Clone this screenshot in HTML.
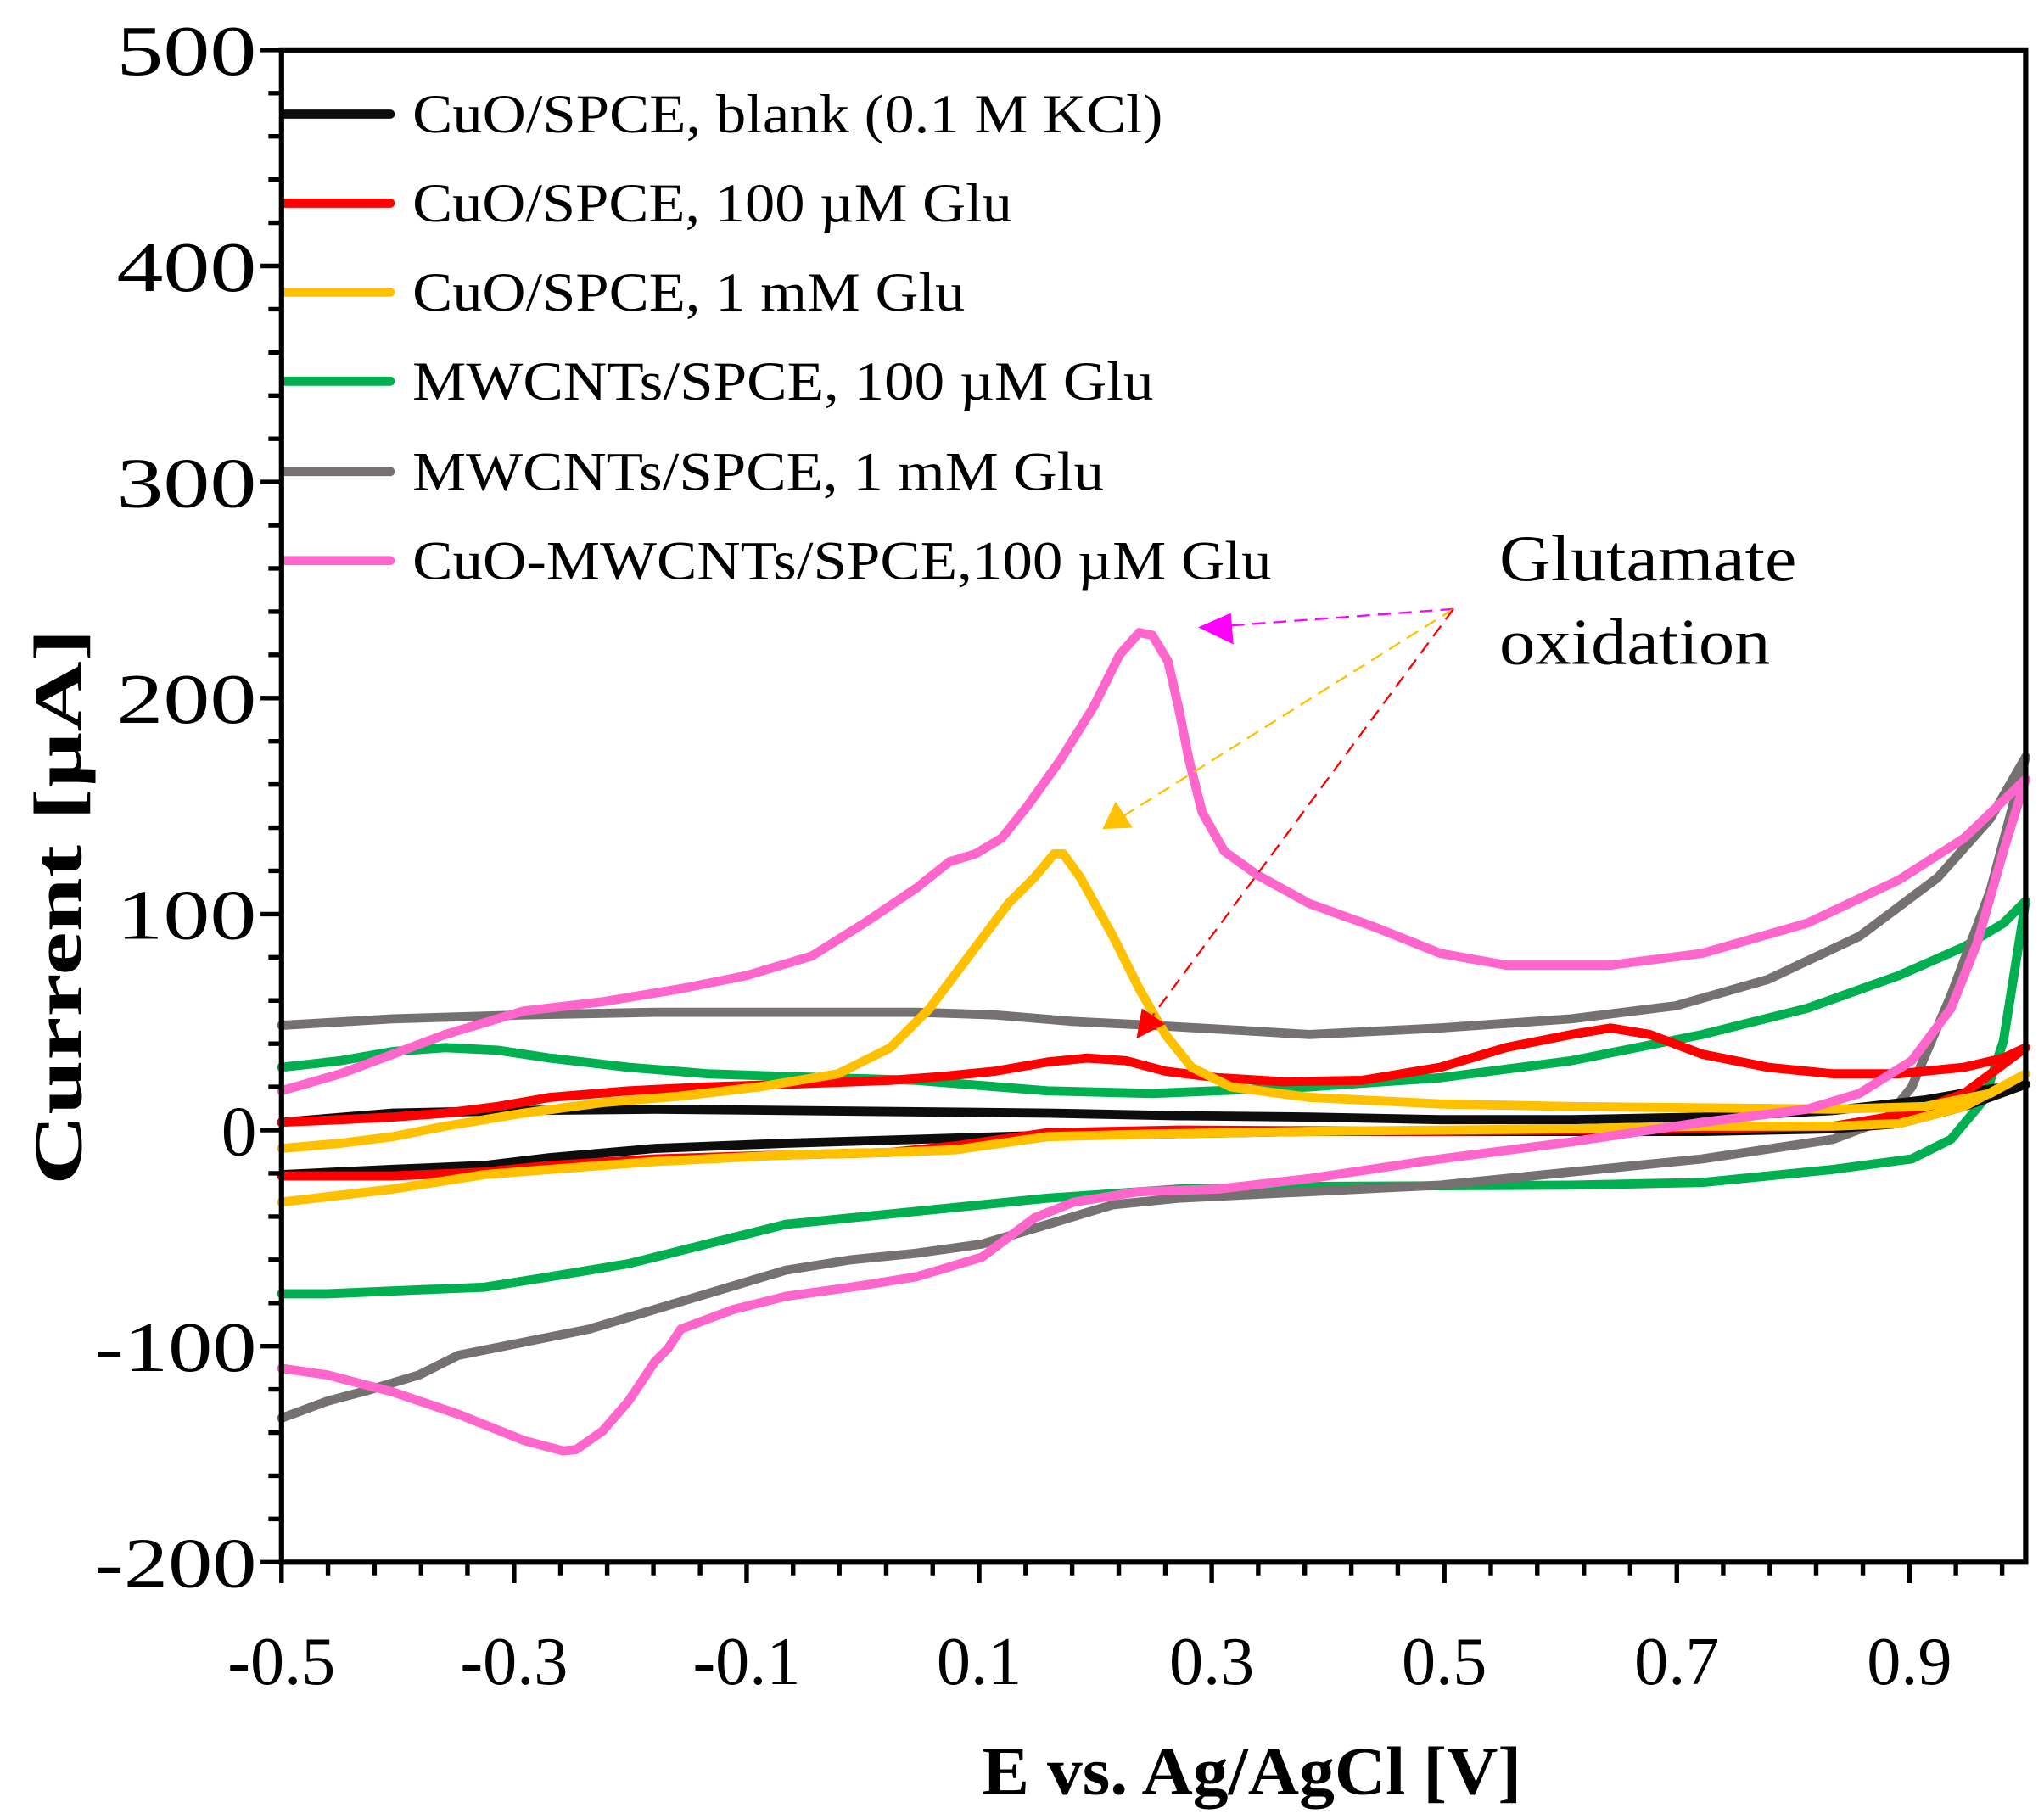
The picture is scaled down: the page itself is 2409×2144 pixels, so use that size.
<!DOCTYPE html>
<html><head><meta charset="utf-8"><style>html,body{margin:0;padding:0;background:#fff}svg{display:block}</style></head>
<body>
<svg width="2409" height="2144" viewBox="0 0 1561 1389" xmlns="http://www.w3.org/2000/svg" font-family="'Liberation Serif', serif">
<rect width="1561" height="1389" fill="#fff"/>
<g fill="none" stroke-linecap="round" stroke-linejoin="round" stroke-width="7">
<path stroke="#00b050" d="M215,815 L260,810 L300,803 L340,800 L380,802 L420,808 L480,815 L540,820 L600,822 L700,825 L800,833 L880,835 L1000,830 L1100,823 L1200,810 L1300,790 L1380,770 L1450,745 L1500,723 L1530,705 L1547,688 L1530,795 L1515,840 L1490,870 L1460,885 L1400,893 L1300,903 L1200,905 L1000,906 L900,908 L800,915 L700,925 L600,935 L540,950 L480,965 L420,975 L370,983 L320,985 L250,988 L215,988"/>
<path stroke="#767171" d="M215,783 L300,778 L400,775 L500,773 L600,773 L700,773 L760,775 L820,780 L880,783 L950,787 L1000,790 L1100,785 L1200,778 L1280,768 L1350,748 L1420,715 L1480,670 L1520,625 L1547,578 L1520,680 L1490,760 L1460,830 L1440,855 L1400,870 L1300,885 L1200,895 L1100,905 L1000,910 L900,915 L850,920 L800,935 L750,950 L700,957 L650,962 L600,970 L550,985 L500,1000 L450,1015 L400,1025 L350,1035 L320,1050 L280,1062 L250,1070 L215,1083"/>
<path stroke="#0d0d0d" d="M215,857 L300,850 L400,848 L500,847 L600,848 L700,849 L800,850 L900,852 L1000,853 L1100,855 L1200,855 L1300,853 L1400,848 L1470,840 L1510,833 L1547,828 L1500,845 L1450,858 L1400,862 L1300,864 L1200,864 L1000,864 L880,866 L800,867 L700,870 L600,873 L500,877 L420,884 L370,890 L300,893 L215,897"/>
<path stroke="#ff0000" d="M215,857 L260,855 L300,853 L340,850 L380,845 L420,838 L480,833 L540,830 L600,828 L680,825 L720,822 L760,818 L800,811 L830,808 L860,810 L890,818 L930,823 L980,826 L1040,825 L1100,815 L1150,800 L1200,790 L1230,785 L1260,790 L1300,805 L1350,815 L1400,820 L1450,820 L1500,815 L1530,808 L1547,800 L1500,835 L1460,850 L1400,860 L1300,862 L1100,864 L900,863 L800,865 L730,875 L680,880 L600,882 L500,885 L420,890 L370,895 L300,898 L215,898"/>
<path stroke="#ffc000" d="M215,877 L260,873 L300,868 L340,860 L400,850 L460,842 L520,837 L580,830 L640,820 L680,800 L710,770 L740,730 L770,690 L790,670 L805,652 L812,652 L825,670 L850,715 L870,755 L890,790 L910,815 L940,830 L1000,838 L1100,843 L1200,845 L1300,846 L1400,847 L1470,845 L1520,835 L1547,820 L1500,845 L1450,858 L1400,860 L1300,860 L1200,862 L1000,864 L880,866 L800,868 L730,878 L680,880 L600,882 L500,887 L420,893 L370,897 L300,908 L215,918"/>
<path stroke="#ff66cc" d="M215,833 L260,820 L300,805 L340,790 L400,772 L460,765 L520,755 L570,745 L620,730 L660,705 L700,678 L725,658 L745,652 L765,640 L785,615 L810,580 L835,540 L855,500 L870,483 L880,485 L892,505 L900,540 L908,580 L918,620 L935,650 L960,668 L1000,690 L1050,708 L1100,728 L1150,737 L1230,737 L1300,728 L1380,705 L1450,672 L1500,640 L1547,595 L1530,650 L1510,720 L1490,770 L1460,810 L1420,835 L1380,847 L1300,857 L1200,872 L1100,885 L1000,900 L930,908 L870,910 L820,918 L790,930 L750,960 L700,975 L650,983 L600,990 L560,1000 L520,1015 L510,1030 L500,1040 L480,1070 L460,1093 L440,1107 L430,1108 L400,1100 L350,1080 L300,1063 L250,1050 L215,1045"/>
</g>
<g fill="none" stroke-width="1.5" stroke-dasharray="10,6">
<line x1="1110" y1="465" x2="935" y2="478" stroke="#ff00ff"/>
<line x1="1110" y1="465" x2="855" y2="625" stroke="#ffc000"/>
<line x1="1110" y1="465" x2="877" y2="780" stroke="#ff0000"/>
</g>
<polygon points="915,479 940,468 942,492" fill="#ff00ff"/>
<polygon points="842,633 852,612 865,632" fill="#ffc000"/>
<polygon points="868,793 872,770 890,782" fill="#ff0000"/>
<text x="1145" y="443" font-size="50" textLength="227" lengthAdjust="spacingAndGlyphs">Glutamate</text>
<text x="1145" y="507" font-size="50" textLength="207" lengthAdjust="spacingAndGlyphs">oxidation</text>
<g stroke-width="7" stroke-linecap="round">
<line x1="217" y1="87" x2="298" y2="87" stroke="#0d0d0d"/>
<line x1="217" y1="155" x2="298" y2="155" stroke="#ff0000"/>
<line x1="217" y1="223" x2="298" y2="223" stroke="#ffc000"/>
<line x1="217" y1="291" x2="298" y2="291" stroke="#00b050"/>
<line x1="217" y1="360" x2="298" y2="360" stroke="#767171"/>
<line x1="217" y1="428" x2="298" y2="428" stroke="#ff66cc"/>
</g>
<g font-size="42" lengthAdjust="spacingAndGlyphs">
<text x="315" y="101" textLength="573" lengthAdjust="spacingAndGlyphs">CuO/SPCE, blank (0.1 M KCl)</text>
<text x="315" y="169" textLength="458" lengthAdjust="spacingAndGlyphs">CuO/SPCE, 100 µM Glu</text>
<text x="315" y="237" textLength="422" lengthAdjust="spacingAndGlyphs">CuO/SPCE, 1 mM Glu</text>
<text x="315" y="305" textLength="566" lengthAdjust="spacingAndGlyphs">MWCNTs/SPCE, 100 µM Glu</text>
<text x="315" y="374" textLength="528" lengthAdjust="spacingAndGlyphs">MWCNTs/SPCE, 1 mM Glu</text>
<text x="315" y="442" textLength="656" lengthAdjust="spacingAndGlyphs">CuO-MWCNTs/SPCE,100 µM Glu</text>
</g>
<rect x="215" y="38" width="1332" height="1155" fill="none" stroke="#000" stroke-width="4"/>
<g stroke="#000" stroke-width="3.5">
<path d="M215,38h-16M215,203h-16M215,368h-16M215,533h-16M215,698h-16M215,863h-16M215,1028h-16M215,1193h-16"/>
<path d="M215,71h-10M215,104h-10M215,137h-10M215,170h-10M215,236h-10M215,269h-10M215,302h-10M215,335h-10M215,401h-10M215,434h-10M215,467h-10M215,500h-10M215,566h-10M215,599h-10M215,632h-10M215,665h-10M215,731h-10M215,764h-10M215,797h-10M215,830h-10M215,896h-10M215,929h-10M215,962h-10M215,995h-10M215,1061h-10M215,1094h-10M215,1127h-10M215,1160h-10"/>
<path d="M215,1193v16M392.6,1193v16M570.2,1193v16M747.8,1193v16M925.4,1193v16M1103,1193v16M1280.6,1193v16M1458.2,1193v16"/>
<path d="M250.5,1193v10M286,1193v10M321.6,1193v10M357,1193v10M428,1193v10M463.7,1193v10M499,1193v10M534.7,1193v10M605.7,1193v10M641,1193v10M676.8,1193v10M712.3,1193v10M783.3,1193v10M818.8,1193v10M854.4,1193v10M890,1193v10M960.9,1193v10M996.4,1193v10M1032,1193v10M1067.5,1193v10M1138.5,1193v10M1174,1193v10M1209.6,1193v10M1245,1193v10M1316,1193v10M1351.6,1193v10M1387,1193v10M1422.7,1193v10M1493.7,1193v10M1529,1193v10"/>
</g>
<g font-size="54" text-anchor="end">
<text x="196" y="57" textLength="107" lengthAdjust="spacingAndGlyphs">500</text>
<text x="196" y="222" textLength="107" lengthAdjust="spacingAndGlyphs">400</text>
<text x="196" y="387" textLength="107" lengthAdjust="spacingAndGlyphs">300</text>
<text x="196" y="552" textLength="107" lengthAdjust="spacingAndGlyphs">200</text>
<text x="196" y="717" textLength="107" lengthAdjust="spacingAndGlyphs">100</text>
<text x="196" y="882">0</text>
<text x="196" y="1047" textLength="124" lengthAdjust="spacingAndGlyphs">-100</text>
<text x="196" y="1212" textLength="124" lengthAdjust="spacingAndGlyphs">-200</text>
</g>
<g font-size="52" text-anchor="middle">
<text x="215" y="1286">-0.5</text><text x="392.6" y="1286">-0.3</text><text x="570.2" y="1286">-0.1</text><text x="747.8" y="1286">0.1</text>
<text x="925.4" y="1286">0.3</text><text x="1103" y="1286">0.5</text><text x="1280.6" y="1286">0.7</text><text x="1458.2" y="1286">0.9</text>
</g>
<text x="750" y="1370" font-size="52" font-weight="bold" textLength="412" lengthAdjust="spacingAndGlyphs">E vs. Ag/AgCl [V]</text>
<text transform="translate(62,905) rotate(-90)" font-size="52" font-weight="bold" textLength="425" lengthAdjust="spacingAndGlyphs">Current [µA]</text>
</svg>
</body></html>
